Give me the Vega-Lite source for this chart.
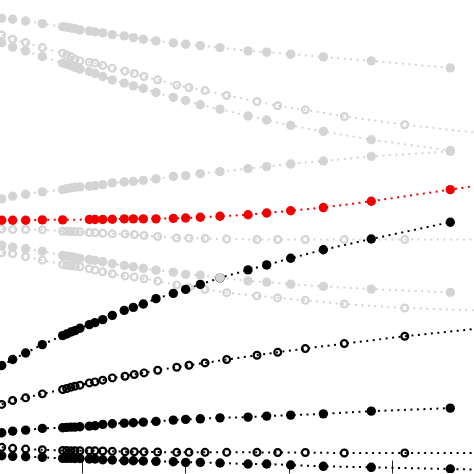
{
  "$schema": "https://vega.github.io/schema/vega-lite/v6.json",
  "autosize": {"type": "fit", "contains": "padding"},
  "width": 474,
  "height": 474,
  "padding": 0,
  "background": "white",
  "datasets": {
    "solid": [
      {"x": 0.217, "G1": 45.57, "G2": 43.13, "G3": 27.47, "G4": 22.83, "R1": 25.33, "B1": 10.77, "B2": 4.03, "B3": 1.73},
      {"x": 0.323, "G1": 45.47, "G2": 42.67, "G3": 27.73, "G4": 22.63, "R1": 25.33, "B1": 11.37, "B2": 4.2, "B3": 1.67},
      {"x": 0.449, "G1": 45.3, "G2": 42.3, "G3": 27.93, "G4": 22.47, "R1": 25.33, "B1": 12.03, "B2": 4.3, "B3": 1.63},
      {"x": 0.611, "G1": 45.03, "G2": 41.73, "G3": 28.17, "G4": 22.23, "R1": 25.37, "B1": 12.87, "B2": 4.47, "B3": 1.57},
      {"x": 0.808, "G1": 44.73, "G2": 41.07, "G3": 28.4, "G4": 21.8, "R1": 25.37, "B1": 13.77, "B2": 4.53, "B3": 1.47},
      {"x": 0.847, "G1": 44.67, "G2": 40.97, "G3": 28.5, "G4": 21.73, "R1": null, "B1": 13.93, "B2": 4.57, "B3": 1.47},
      {"x": 0.889, "G1": 44.6, "G2": 40.83, "G3": 28.57, "G4": 21.67, "R1": null, "B1": 14.13, "B2": 4.6, "B3": 1.47},
      {"x": 0.928, "G1": 44.53, "G2": 40.63, "G3": 28.63, "G4": 21.6, "R1": null, "B1": 14.27, "B2": 4.6, "B3": 1.45},
      {"x": 0.976, "G1": 44.4, "G2": 40.47, "G3": 28.67, "G4": 21.5, "R1": null, "B1": 14.5, "B2": 4.63, "B3": 1.45},
      {"x": 1.067, "G1": 44.3, "G2": 40.23, "G3": 28.73, "G4": 21.4, "R1": 25.4, "B1": 14.87, "B2": 4.7, "B3": 1.4},
      {"x": 1.122, "G1": 44.2, "G2": 40.03, "G3": 28.8, "G4": 21.3, "R1": 25.4, "B1": 15.07, "B2": 4.73, "B3": 1.4},
      {"x": 1.197, "G1": 44.1, "G2": 39.73, "G3": 28.9, "G4": 21.17, "R1": 25.4, "B1": 15.37, "B2": 4.87, "B3": 1.33},
      {"x": 1.29, "G1": 43.93, "G2": 39.4, "G3": 29.07, "G4": 20.97, "R1": 25.43, "B1": 15.8, "B2": 4.93, "B3": 1.3},
      {"x": 1.406, "G1": 43.8, "G2": 39.07, "G3": 29.17, "G4": 20.8, "R1": 25.47, "B1": 16.3, "B2": 5.0, "B3": 1.23},
      {"x": 1.494, "G1": 43.63, "G2": 38.8, "G3": 29.23, "G4": 20.67, "R1": 25.47, "B1": 16.6, "B2": 5.03, "B3": 1.23},
      {"x": 1.591, "G1": 43.47, "G2": 38.53, "G3": 29.33, "G4": 20.5, "R1": 25.47, "B1": 16.93, "B2": 5.1, "B3": 1.2},
      {"x": 1.714, "G1": 43.3, "G2": 38.13, "G3": 29.47, "G4": 20.33, "R1": 25.47, "B1": 17.47, "B2": 5.17, "B3": 1.17},
      {"x": 1.882, "G1": 43.1, "G2": 37.63, "G3": 29.73, "G4": 20.13, "R1": 25.52, "B1": 18.0, "B2": 5.3, "B3": 1.13},
      {"x": 2.002, "G1": 42.97, "G2": 37.33, "G3": 29.8, "G4": 19.9, "R1": 25.55, "B1": 18.4, "B2": 5.37, "B3": 1.07},
      {"x": 2.144, "G1": 42.83, "G2": 36.9, "G3": 30.0, "G4": 19.83, "R1": 25.63, "B1": 18.9, "B2": 5.43, "B3": 1.07},
      {"x": 2.335, "G1": 42.63, "G2": 36.47, "G3": 30.2, "G4": 19.57, "R1": 25.73, "B1": 19.55, "B2": 5.53, "B3": 1.0},
      {"x": 2.607, "G1": 42.3, "G2": 35.77, "G3": 30.5, "G4": 19.25, "R1": 25.88, "B1": 20.35, "B2": 5.6, "B3": 0.9},
      {"x": 2.788, "G1": 42.17, "G2": 35.37, "G3": 30.7, "G4": 19.13, "R1": 26.05, "B1": 20.85, "B2": 5.7, "B3": 0.9},
      {"x": 3.021, "G1": 41.97, "G2": 34.83, "G3": 30.97, "G4": 18.92, "R1": 26.28, "B1": 21.52, "B2": 5.8, "B3": 0.8},
      {"x": 3.338, "G1": 41.7, "G2": 34.23, "G3": 31.27, "G4": 18.7, "R1": 26.6, "B1": 22.37, "B2": 5.93, "B3": 0.67},
      {"x": 3.803, "G1": 41.3, "G2": 33.4, "G3": 31.73, "G4": 18.43, "R1": 27.23, "B1": 23.45, "B2": 6.2, "B3": 0.57},
      {"x": 4.57, "G1": 40.6, "G2": 32.33, "G3": 32.23, "G4": 18.1, "R1": 28.4, "B1": 25.13, "B2": 6.5, "B3": 0.4},
      {"x": 5.635, "G1": null, "G2": null, "G3": null, "G4": null, "R1": 30.03, "B1": null, "B2": null, "B3": 0.16}
    ],
    "hollow": [
      {"x": 0.217, "GO1": 43.9, "GO2": 24.45, "GO3": 22.07, "BO1": 6.87, "BO2": 2.57},
      {"x": 0.323, "GO1": 43.47, "GO2": 24.4, "GO3": 21.97, "BO1": 7.27, "BO2": 2.47},
      {"x": 0.449, "GO1": 43.13, "GO2": 24.4, "GO3": 21.67, "BO1": 7.53, "BO2": 2.4},
      {"x": 0.611, "GO1": 42.63, "GO2": 24.37, "GO3": 21.33, "BO1": 7.93, "BO2": 2.33},
      {"x": 0.808, "GO1": 42.07, "GO2": 24.23, "GO3": 20.9, "BO1": 8.37, "BO2": 2.25},
      {"x": 0.847, "GO1": 41.9, "GO2": 24.22, "GO3": 20.83, "BO1": 8.47, "BO2": 2.25},
      {"x": 0.889, "GO1": 41.73, "GO2": 24.2, "GO3": 20.77, "BO1": 8.6, "BO2": 2.23},
      {"x": 0.928, "GO1": 41.47, "GO2": 24.2, "GO3": 20.72, "BO1": 8.7, "BO2": 2.23},
      {"x": 0.976, "GO1": 41.3, "GO2": 24.17, "GO3": 20.67, "BO1": 8.8, "BO2": 2.23},
      {"x": 1.067, "GO1": 41.17, "GO2": 24.1, "GO3": 20.47, "BO1": 9.03, "BO2": 2.23},
      {"x": 1.122, "GO1": 41.07, "GO2": 24.07, "GO3": 20.33, "BO1": 9.13, "BO2": 2.22},
      {"x": 1.197, "GO1": 40.83, "GO2": 24.03, "GO3": 20.17, "BO1": 9.3, "BO2": 2.2},
      {"x": 1.29, "GO1": 40.57, "GO2": 23.97, "GO3": 19.97, "BO1": 9.53, "BO2": 2.17},
      {"x": 1.413, "GO1": 40.27, "GO2": 23.95, "GO3": 19.73, "BO1": 9.7, "BO2": 2.13},
      {"x": 1.503, "GO1": 40.03, "GO2": 23.9, "GO3": 19.63, "BO1": 9.87, "BO2": 2.13},
      {"x": 1.598, "GO1": 39.73, "GO2": 23.8, "GO3": 19.47, "BO1": 10.03, "BO2": 2.12},
      {"x": 1.73, "GO1": 39.4, "GO2": 23.7, "GO3": 19.23, "BO1": 10.3, "BO2": 2.1},
      {"x": 1.915, "GO1": 38.87, "GO2": 23.55, "GO3": 18.85, "BO1": 10.6, "BO2": 2.07},
      {"x": 2.034, "GO1": 38.63, "GO2": 23.53, "GO3": 18.57, "BO1": 10.8, "BO2": 2.07},
      {"x": 2.19, "GO1": 38.33, "GO2": 23.5, "GO3": 18.4, "BO1": 11.03, "BO2": 2.07},
      {"x": 2.4, "GO1": 37.83, "GO2": 23.45, "GO3": 18.07, "BO1": 11.37, "BO2": 2.07},
      {"x": 2.694, "GO1": 37.23, "GO2": 23.4, "GO3": 17.75, "BO1": 11.8, "BO2": 2.07},
      {"x": 2.895, "GO1": 36.8, "GO2": 23.4, "GO3": 17.55, "BO1": 12.1, "BO2": 2.05},
      {"x": 3.163, "GO1": 36.4, "GO2": 23.4, "GO3": 17.3, "BO1": 12.47, "BO2": 2.05},
      {"x": 3.541, "GO1": 35.73, "GO2": 23.4, "GO3": 16.93, "BO1": 12.97, "BO2": 2.0},
      {"x": 4.128, "GO1": 34.9, "GO2": 23.4, "GO3": 16.53, "BO1": 13.7, "BO2": 2.0},
      {"x": 5.052, "GO1": 33.84, "GO2": 23.4, "GO3": 16.21, "BO1": 14.7, "BO2": 2.0}
    ]
  },
  "encoding": {
    "x": {
      "field": "x",
      "type": "quantitative",
      "scale": {"domain": [0.2, 4.8], "nice": false, "zero": false},
      "axis": {
        "orient": "bottom",
        "values": [1, 2, 3, 4],
        "title": null,
        "labels": false,
        "domain": false,
        "grid": false,
        "ticks": true,
        "tickSize": -13,
        "tickWidth": 1,
        "tickColor": "#222"
      }
    },
    "y": {
      "field": "y",
      "type": "quantitative",
      "scale": {"domain": [0, 47.4], "nice": false, "zero": false},
      "axis": null
    },
    "color": {
      "field": "series",
      "type": "nominal",
      "scale": {
        "domain": ["G1", "G2", "G3", "G4", "GO1", "GO2", "GO3", "R1", "B1", "B2", "B3", "BO1", "BO2"],
        "range": ["#d4d4d4", "#d4d4d4", "#d4d4d4", "#d4d4d4", "#d4d4d4", "#d4d4d4", "#d4d4d4", "#f20000", "#000000", "#000000", "#000000", "#000000", "#000000"]
      },
      "legend": null
    }
  },
  "layer": [
    {
      "data": {"name": "solid"},
      "transform": [
        {"fold": ["B1", "B2", "B3", "G1", "G2", "G3", "G4", "R1"], "as": ["series", "y"]},
        {"filter": "isValid(datum.y)"}
      ],
      "mark": {"type": "line", "clip": true, "strokeWidth": 2, "strokeDash": [2, 4.5]},
      "encoding": {"detail": {"field": "series"}}
    },
    {
      "data": {"name": "hollow"},
      "transform": [
        {"fold": ["BO1", "BO2", "GO1", "GO2", "GO3"], "as": ["series", "y"]}
      ],
      "mark": {"type": "line", "clip": true, "strokeWidth": 2, "strokeDash": [2, 4.5]},
      "encoding": {"detail": {"field": "series"}}
    },
    {
      "data": {"name": "hollow"},
      "transform": [
        {"fold": ["BO1", "BO2", "GO1", "GO2", "GO3"], "as": ["series", "y"]}
      ],
      "mark": {"type": "point", "shape": "circle", "filled": false, "clip": true, "size": 46, "strokeWidth": 2.2, "opacity": 1}
    },
    {
      "data": {"name": "solid"},
      "transform": [
        {"fold": ["B1", "B2", "B3", "G1", "G2", "G3", "G4", "R1"], "as": ["series", "y"]},
        {"filter": "isValid(datum.y)"}
      ],
      "mark": {"type": "circle", "clip": true, "size": 88, "opacity": 1}
    }
  ],
  "config": {
    "view": {"stroke": null}
  }
}
